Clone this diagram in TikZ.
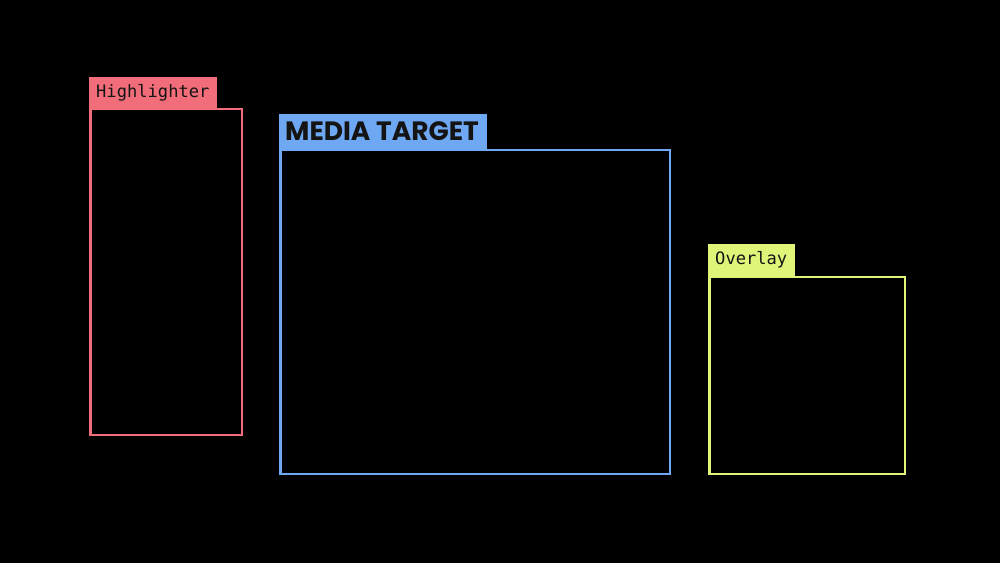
\documentclass[tikz,border=0pt]{standalone}
\usepackage{fontspec}
\setmonofont{DejaVu Sans Mono}
\newfontfamily\titlefont{Poppins}[BoldFont={* Bold}]
\definecolor{hlpink}{HTML}{F26D7A}
\definecolor{mtblue}{HTML}{6FA8F2}
\definecolor{ovyellow}{HTML}{DFF57A}
\definecolor{tabtext}{HTML}{141414}
\begin{document}
\begin{tikzpicture}[x=1pt,y=-1pt,
  frame/.style={line width=2.6pt},
  tabbox/.style={inner sep=0pt, anchor=west, text=tabtext},
  monolabel/.style={font=\ttfamily\fontsize{17.1}{19}\selectfont}]
\fill[black] (0,0) rectangle (1000,563);
\useasboundingbox (0,0) rectangle (1000,563);
% Highlighter
\fill[hlpink] (89,77) rectangle (217,108);
\node[tabbox, monolabel] (hltab) at (96,92.5) {Highlighter};
\draw[frame, draw=hlpink] (90.3,109) rectangle (242,435);
% Media Target
\fill[mtblue] (279,114) rectangle (487,149);
\node[tabbox, font=\titlefont\bfseries\fontsize{26.5}{28}\selectfont] (mttab) at (285,131.5) {MEDIA TARGET};
\draw[frame, draw=mtblue] (280.3,150) rectangle (670,474);
% Overlay
\fill[ovyellow] (708,244) rectangle (795,276);
\node[tabbox, monolabel] (ovtab) at (715,259.5) {Overlay};
\draw[frame, draw=ovyellow] (709.3,277) rectangle (905,474);
\end{tikzpicture}
\end{document}
